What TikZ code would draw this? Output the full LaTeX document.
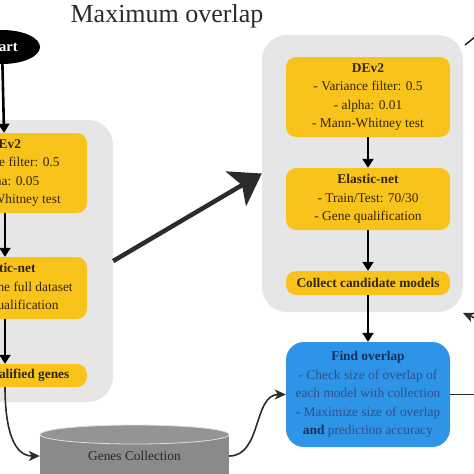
\documentclass[tikz,border=0pt]{standalone}
\usepackage{fontspec}
\setmainfont{Liberation Serif}
\usetikzlibrary{arrows.meta,shapes.geometric}

\definecolor{panelgray}{HTML}{E6E6E6}
\definecolor{boxyellow}{HTML}{F8C41B}
\definecolor{boxblue}{HTML}{2E94E8}
\definecolor{yeltext}{HTML}{33260A}
\definecolor{navytext}{HTML}{16305A}
\definecolor{bluetext}{HTML}{30508A}
\definecolor{linkgray}{HTML}{2B2B2B}
\definecolor{cylbody}{HTML}{8A8A8A}
\definecolor{cyltop}{HTML}{949494}

\begin{document}
\begin{tikzpicture}[x=1pt,y=-1pt,
  panel/.style={fill=panelgray, rounded corners=25pt, inner sep=0pt},
  yellowbox/.style={fill=boxyellow, rounded corners=10pt, minimum width=164pt,
    align=center, text=yeltext, font=\fontsize{13.4}{18.5}\selectfont},
  bluebox/.style={fill=boxblue, rounded corners=18pt, minimum width=164pt,
    align=center, text=bluetext, font=\fontsize{13.4}{18.5}\selectfont},
  flow/.style={line width=2.6pt, -{Triangle[length=9pt,width=11pt]}},
  link/.style={draw=linkgray, line width=1.6pt, -{Stealth[length=11pt,width=10pt,inset=3pt]}},
]
\useasboundingbox (0,0) rectangle (474,474);

% Title
\node[font=\fontsize{26}{30}\selectfont, text=linkgray, anchor=base] (title) at (167,22) {Maximum overlap};

% Left run (full dataset)
\node[panel, minimum width=173pt, minimum height=282pt] (leftpanel) at (26.5,261) {};
\node[ellipse, fill=black, text=white, minimum width=76pt, minimum height=34pt,
  font=\fontsize{14.5}{16}\selectfont\bfseries] (start) at (2,47) {Start};
\node[yellowbox, minimum height=80pt] (ldev) at (5,173)
  {\textbf{DEv2}\\- Variance filter: 0.5\\- alpha: 0.05\\- Mann-Whitney test};
\node[yellowbox, minimum height=62pt] (lnet) at (5,288)
  {\textbf{Elastic-net}\\- Train on the full dataset\\- Gene qualification};
\node[yellowbox, minimum height=23pt] (qual) at (5,375.5) {\textbf{Collect qualified genes}};

\draw[flow] (start) -- (ldev);
\draw[flow] (ldev) -- (lnet);
\draw[flow] (lnet) -- (qual);

% Right run (train/test split)
\node[panel, minimum width=201pt, minimum height=277pt] (rightpanel) at (362.5,173.5) {};
\node[yellowbox, minimum height=80pt] (rdev) at (368,97)
  {\textbf{DEv2}\\- Variance filter: 0.5\\- alpha: 0.01\\- Mann-Whitney test};
\node[yellowbox, minimum height=62pt] (rnet) at (368,199)
  {\textbf{Elastic-net}\\- Train/Test: 70/30\\- Gene qualification};
\node[yellowbox, minimum height=24pt] (collect) at (368,283) {\textbf{Collect candidate models}};
\node[bluebox, minimum height=105pt] (overlap) at (368,394.5)
  {\textcolor{navytext}{\textbf{Find overlap}}\\- Check size of overlap of\\each model with collection\\- Maximize size of overlap\\\textcolor{navytext}{\textbf{and}} prediction accuracy};

\draw[flow] (rdev) -- (rnet);
\draw[flow] (rnet) -- (collect);
\draw[flow] (collect) -- (overlap);

% Genes collection (cylinder)
\fill[cylbody] (40,434.5) rectangle (229,490);
\filldraw[fill=cyltop, draw=white!75!gray, line width=0.8pt] (134.5,434.5) ellipse [x radius=94.5pt, y radius=9.5pt];
\node[minimum width=189pt, minimum height=40pt, text=black!85,
  font=\fontsize{13.4}{15}\selectfont] (genes) at (134.5,456) {Genes Collection};

% Connectors
\draw[linkgray, line width=4.5pt, -{Stealth[length=30pt,width=40pt,inset=7pt]}] (leftpanel.east) -- (rightpanel.west);
\draw[link] (qual.south) to[out=-90,in=180] (genes.west);
\draw[link] (genes.east) to[out=0,in=180] (overlap.west);

\coordinate (outright) at (484,394.5);
\coordinate (inback) at (484,322);
\coordinate (cornerin) at (463,313);
\coordinate (topfrom) at (465,45);
\coordinate (topout) at (480,33);
\draw[linkgray, line width=1.6pt] (overlap.east) -- (outright);
\draw[link] (inback) -- (cornerin);
\draw[linkgray, line width=1.6pt] (topfrom) -- (topout);

\end{tikzpicture}
\end{document}
